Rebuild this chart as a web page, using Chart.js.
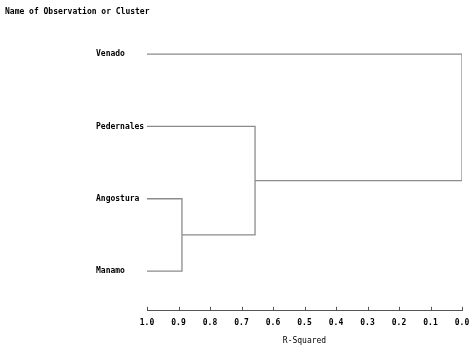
<!DOCTYPE html>
<html>
<head>
<meta charset="utf-8">
<script src="https://cdn.jsdelivr.net/npm/chart.js@4"></script>
<style>
  html, body { margin: 0; padding: 0; background: #fff; }
  canvas { display: block; }
</style>
</head>
<body>
<canvas id="chart" width="474" height="348"></canvas>
<script>
// leaves top to bottom
const leaves = ['Venado', 'Pedernales', 'Angostura', 'Manamo'];
// merges: node ids 0..3 are leaves, 4.. are clusters in join order
const joinA = [2, 1, 0];
const joinB = [3, 4, 5];
const joinR2 = [0.889, 0.657, 0.0];
const tickValues = [1.0, 0.9, 0.8, 0.7, 0.6, 0.5, 0.4, 0.3, 0.2, 0.1, 0.0];

const FONT = "'DejaVu Sans Mono', monospace";
const LINE = '#8c8c8c';

// node positions
const nodeY = leaves.map((_, i) => i);
const nodeH = leaves.map(() => 1.0);
const datasets = [];
joinA.forEach((a, k) => {
  const b = joinB[k], h = joinR2[k];
  datasets.push({
    data: [
      { x: nodeH[a], y: nodeY[a] },
      { x: h, y: nodeY[a] },
      { x: h, y: nodeY[b] },
      { x: nodeH[b], y: nodeY[b] }
    ],
    borderColor: LINE,
    borderWidth: 1.3,
    pointRadius: 0,
    tension: 0,
    fill: false
  });
  nodeY.push((nodeY[a] + nodeY[b]) / 2);
  nodeH.push(h);
});

const labelsPlugin = {
  id: 'labels',
  afterDraw(chart) {
    const ctx = chart.ctx;
    const x = chart.scales.x;
    const y = chart.scales.y;
    ctx.save();
    ctx.fillStyle = '#000';
    ctx.font = 'bold 8px ' + FONT;
    ctx.textBaseline = 'middle';
    ctx.textAlign = 'left';
    ctx.fillText('Name of Observation or Cluster', 5, 12);
    leaves.forEach((name, i) => {
      ctx.fillText(name, 96, y.getPixelForValue(i));
    });
    // tick marks pointing up from the axis line
    ctx.strokeStyle = '#555';
    ctx.lineWidth = 1;
    ctx.beginPath();
    tickValues.forEach(v => {
      const px = Math.round(x.getPixelForValue(v)) + 0.5;
      ctx.moveTo(px, x.top - 4);
      ctx.lineTo(px, x.top);
    });
    ctx.stroke();
    ctx.restore();
  }
};

new Chart(document.getElementById('chart'), {
  type: 'line',
  data: { datasets },
  plugins: [labelsPlugin],
  options: {
    responsive: false,
    animation: false,
    layout: { padding: { left: 147, right: 12, top: 18, bottom: 2 } },
    plugins: { legend: { display: false }, tooltip: { enabled: false } },
    scales: {
      x: {
        type: 'linear',
        min: 0,
        max: 1,
        reverse: true,
        afterBuildTicks(scale) {
          scale.ticks = tickValues.map(v => ({ value: v }));
        },
        ticks: {
          color: '#000',
          font: { family: FONT, size: 8, weight: 'bold' },
          padding: 3,
          maxRotation: 0,
          autoSkip: false,
          callback: v => v.toFixed(1)
        },
        grid: { drawOnChartArea: false, color: 'rgba(0,0,0,0)', tickLength: 4 },
        border: { color: '#555', width: 1 },
        title: {
          display: true,
          text: 'R-Squared',
          color: '#000',
          font: { family: FONT, size: 8 },
          padding: { top: 6, bottom: 0 }
        }
      },
      y: {
        type: 'linear',
        display: false,
        min: -0.5,
        max: 3.55,
        reverse: true
      }
    }
  }
});
</script>
</body>
</html>
